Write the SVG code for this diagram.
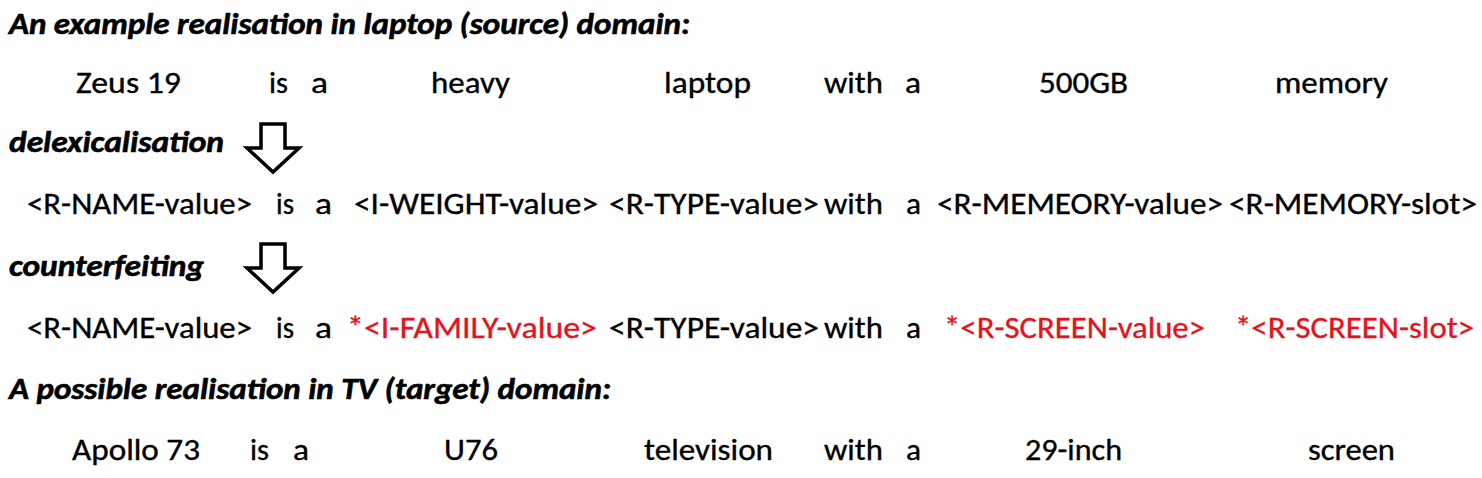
<svg xmlns="http://www.w3.org/2000/svg" width="1482" height="478" viewBox="0 0 1482 478">
<style>
text{font-family:Carlito,Lato,"Open Sans","Liberation Sans",sans-serif;fill:#000}
.h{font-size:30px;font-weight:900;font-style:italic;stroke:#000;stroke-width:0.6}
.w{font-size:31px;stroke:#000;stroke-width:0.35}
.w.r{fill:#e3141c;stroke:#e3141c}
.arrow{fill:#fff;stroke:#000;stroke-width:3.5;stroke-linejoin:miter}
</style>
<rect width="1482" height="478" fill="#fff"/>
<g id="title-source">
<text class="h" x="9" y="34" textLength="681" lengthAdjust="spacingAndGlyphs">An example realisation in laptop (source) domain:</text>
</g>
<g id="row-source">
<text class="w" x="76" y="93" textLength="105" lengthAdjust="spacingAndGlyphs">Zeus 19</text>
<text class="w" x="269" y="93" textLength="19" lengthAdjust="spacingAndGlyphs">is</text>
<text class="w" x="311" y="93" textLength="17" lengthAdjust="spacingAndGlyphs">a</text>
<text class="w" x="431" y="93" textLength="79" lengthAdjust="spacingAndGlyphs">heavy</text>
<text class="w" x="664" y="93" textLength="87" lengthAdjust="spacingAndGlyphs">laptop</text>
<text class="w" x="824" y="93" textLength="59" lengthAdjust="spacingAndGlyphs">with</text>
<text class="w" x="905" y="93" textLength="16" lengthAdjust="spacingAndGlyphs">a</text>
<text class="w" x="1039" y="93" textLength="89" lengthAdjust="spacingAndGlyphs">500GB</text>
<text class="w" x="1275" y="93" textLength="113" lengthAdjust="spacingAndGlyphs">memory</text>
</g>
<g id="label-delex">
<text class="h" x="9" y="152" textLength="215" lengthAdjust="spacingAndGlyphs">delexicalisation</text>
</g>
<g id="row-delex">
<text class="w" x="27" y="214" textLength="225" lengthAdjust="spacingAndGlyphs">&lt;R-NAME-value&gt;</text>
<text class="w" x="276" y="214" textLength="18" lengthAdjust="spacingAndGlyphs">is</text>
<text class="w" x="315" y="214" textLength="17" lengthAdjust="spacingAndGlyphs">a</text>
<text class="w" x="354" y="214" textLength="244" lengthAdjust="spacingAndGlyphs">&lt;I-WEIGHT-value&gt;</text>
<text class="w" x="609" y="214" textLength="210" lengthAdjust="spacingAndGlyphs">&lt;R-TYPE-value&gt;</text>
<text class="w" x="824" y="214" textLength="59" lengthAdjust="spacingAndGlyphs">with</text>
<text class="w" x="906" y="214" textLength="15" lengthAdjust="spacingAndGlyphs">a</text>
<text class="w" x="937" y="214" textLength="286" lengthAdjust="spacingAndGlyphs">&lt;R-MEMEORY-value&gt;</text>
<text class="w" x="1229" y="214" textLength="248" lengthAdjust="spacingAndGlyphs">&lt;R-MEMORY-slot&gt;</text>
</g>
<g id="label-counterfeit">
<text class="h" x="9" y="276" textLength="195" lengthAdjust="spacingAndGlyphs">counterfeiting</text>
</g>
<g id="row-counterfeit">
<text class="w" x="27" y="338" textLength="225" lengthAdjust="spacingAndGlyphs">&lt;R-NAME-value&gt;</text>
<text class="w" x="276" y="338" textLength="18" lengthAdjust="spacingAndGlyphs">is</text>
<text class="w" x="315" y="338" textLength="17" lengthAdjust="spacingAndGlyphs">a</text>
<text class="w r" x="347" y="338" textLength="250" lengthAdjust="spacingAndGlyphs">*&lt;I-FAMILY-value&gt;</text>
<text class="w" x="609" y="338" textLength="210" lengthAdjust="spacingAndGlyphs">&lt;R-TYPE-value&gt;</text>
<text class="w" x="824" y="338" textLength="59" lengthAdjust="spacingAndGlyphs">with</text>
<text class="w" x="906" y="338" textLength="15" lengthAdjust="spacingAndGlyphs">a</text>
<text class="w r" x="944" y="338" textLength="261" lengthAdjust="spacingAndGlyphs">*&lt;R-SCREEN-value&gt;</text>
<text class="w r" x="1235" y="338" textLength="239" lengthAdjust="spacingAndGlyphs">*&lt;R-SCREEN-slot&gt;</text>
</g>
<g id="title-target">
<text class="h" x="9" y="399" textLength="602" lengthAdjust="spacingAndGlyphs">A possible realisation in TV (target) domain:</text>
</g>
<g id="row-target">
<text class="w" x="72" y="460" textLength="128" lengthAdjust="spacingAndGlyphs">Apollo 73</text>
<text class="w" x="250" y="460" textLength="19" lengthAdjust="spacingAndGlyphs">is</text>
<text class="w" x="293" y="460" textLength="16" lengthAdjust="spacingAndGlyphs">a</text>
<text class="w" x="444" y="460" textLength="54" lengthAdjust="spacingAndGlyphs">U76</text>
<text class="w" x="644" y="460" textLength="129" lengthAdjust="spacingAndGlyphs">television</text>
<text class="w" x="824" y="460" textLength="59" lengthAdjust="spacingAndGlyphs">with</text>
<text class="w" x="906" y="460" textLength="15" lengthAdjust="spacingAndGlyphs">a</text>
<text class="w" x="1025" y="460" textLength="97" lengthAdjust="spacingAndGlyphs">29-inch</text>
<text class="w" x="1308" y="460" textLength="87" lengthAdjust="spacingAndGlyphs">screen</text>
</g>
<g id="connectors">
<polygon class="arrow" points="261,124 285,124 285,148 299,148 273,172 247,148 261,148"/>
<polygon class="arrow" points="261,244 285,244 285,268 299,268 273,292 247,268 261,268"/>
</g>
</svg>
